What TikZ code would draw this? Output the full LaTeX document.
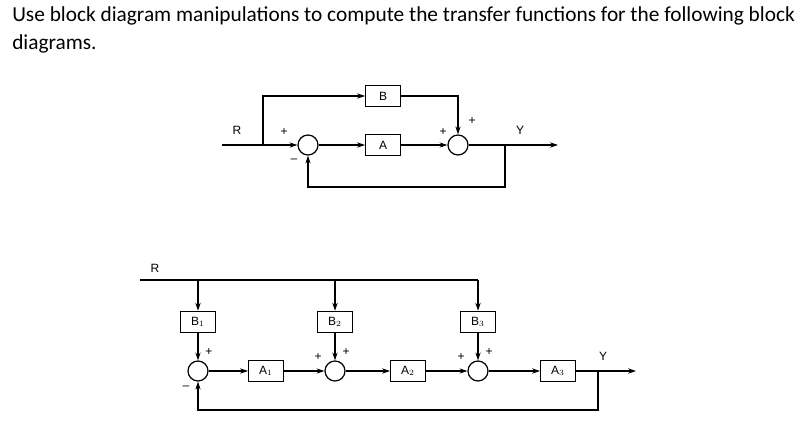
\documentclass[tikz,border=0pt]{standalone}
\usepackage{fontspec}
\setmainfont{Carlito}
\newfontfamily\lblfont{Liberation Sans}
\usetikzlibrary{arrows.meta}
\begin{document}
\begin{tikzpicture}[x=0.75pt,y=-0.75pt,
  blk/.style={draw,line width=0.9pt,minimum width=26pt,minimum height=16pt,inner sep=0pt,font=\lblfont\fontsize{9}{10}\selectfont},
  sumj/.style={draw,circle,line width=0.9pt,minimum size=15pt,inner sep=0pt},
  ln/.style={line width=0.9pt},
  arr/.style={line width=0.9pt,-{Stealth[length=6pt,width=4pt]}},
  lbl/.style={font=\lblfont\fontsize{9}{10}\selectfont,inner sep=1pt},
  sg/.style={font=\lblfont\fontsize{9}{10}\selectfont,inner sep=0pt}]
\useasboundingbox (0,0) rectangle (809,442);
\node[anchor=north west,align=left,inner sep=0pt,font=\fontsize{16}{21}\selectfont] (title) at (12,6)
 {Use block diagram manipulations to compute the transfer functions for the following block\\diagrams.};
% top diagram
\coordinate (in1) at (222,145);
\coordinate (br1) at (263,145);
\node[sumj] (s1) at (308,145) {};
\node[blk] (A) at (383,145) {A};
\node[blk] (B) at (383,96) {B};
\node[sumj] (s2) at (458,145) {};
\coordinate (o1) at (505,145);
\coordinate (out1) at (558,145);
\coordinate (f1) at (505,187);
\coordinate (f2) at (308,187);
\draw[arr] (in1) -- (s1);
\draw[arr] (br1) |- (B);
\draw[arr] (B) -| (s2);
\draw[arr] (s1) -- (A);
\draw[arr] (A) -- (s2);
\draw[arr] (s2) -- (out1);
\draw[arr] (o1) -- (f1) -- (f2) -- (s1);
\node[lbl] (R1) at (237,130) {R};
\node[lbl] (Y1) at (520,130) {Y};
\node[sg] (p1) at (284,132) {+};
\node[sg] (m1) at (294,161) {–};
\node[sg] (p2) at (443,132) {+};
\node[sg] (p3) at (472,121) {+};
% bottom diagram
\coordinate (in2) at (140,280);
\coordinate (t1) at (198,280);
\coordinate (t2) at (335,280);
\coordinate (t3) at (478,280);
\node[blk] (B1) at (198,322) {B$_1$};
\node[blk] (B2) at (335,322) {B$_2$};
\node[blk] (B3) at (478,322) {B$_3$};
\node[sumj] (c1) at (198,371) {};
\node[sumj] (c2) at (335,371) {};
\node[sumj] (c3) at (478,371) {};
\node[blk] (A1) at (266,371) {A$_1$};
\node[blk] (A2) at (408,371) {A$_2$};
\node[blk] (A3) at (558,371) {A$_3$};
\coordinate (o2) at (598,371);
\coordinate (out2) at (636,371);
\coordinate (g1) at (598,410);
\coordinate (g2) at (198,410);
\draw[ln] (in2) -- (t3);
\draw[arr] (t1) -- (B1);
\draw[arr] (t2) -- (B2);
\draw[arr] (t3) -- (B3);
\draw[arr] (B1) -- (c1);
\draw[arr] (B2) -- (c2);
\draw[arr] (B3) -- (c3);
\draw[arr] (c1) -- (A1);
\draw[arr] (A1) -- (c2);
\draw[arr] (c2) -- (A2);
\draw[arr] (A2) -- (c3);
\draw[arr] (c3) -- (A3);
\draw[arr] (A3) -- (out2);
\draw[arr] (o2) -- (g1) -- (g2) -- (c1);
\node[lbl] (R2) at (155,268) {R};
\node[lbl] (Y2) at (603,356) {Y};
\node[sg] (q1) at (209,352) {+};
\node[sg] (q2) at (186,388) {–};
\node[sg] (q3) at (318,357) {+};
\node[sg] (q4) at (346,352) {+};
\node[sg] (q5) at (461,357) {+};
\node[sg] (q6) at (489,352) {+};
\end{tikzpicture}
\end{document}
